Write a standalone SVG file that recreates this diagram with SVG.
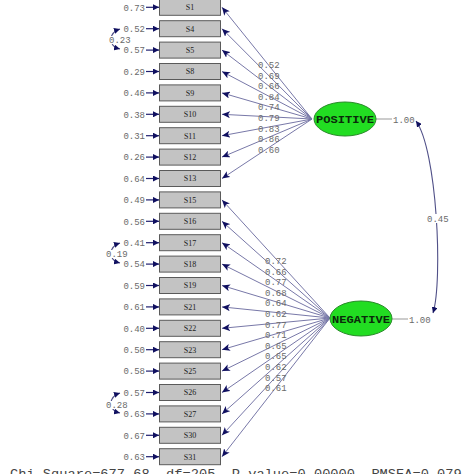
<svg xmlns="http://www.w3.org/2000/svg" width="474" height="474" viewBox="0 0 474 474">
<defs>
<marker id="ah" markerUnits="userSpaceOnUse" markerWidth="9" markerHeight="7" refX="8" refY="3.5" orient="auto-start-reverse">
<path d="M0,0 L8,3.5 L0,7 L2,3.5 Z" fill="#101060"/>
</marker>
<marker id="ahs" markerUnits="userSpaceOnUse" markerWidth="7" markerHeight="6" refX="6" refY="3" orient="auto-start-reverse">
<path d="M0,0 L6,3 L0,6 Z" fill="#101060"/>
</marker>
</defs>
<style>
.box{fill:#c3c3c3;stroke:#5a5a5a;stroke-width:1}
.bl{font-family:"Liberation Serif",serif;font-size:8px;fill:#222;text-anchor:middle}
.num{font-family:"Liberation Mono",monospace;font-size:9px;fill:#6a6a6a}
.err{stroke:#202070;stroke-width:1.2;marker-end:url(#ahs)}
.ld{stroke:#7878a8;stroke-width:1;fill:none;marker-end:url(#ah)}
.cv{stroke:#505088;stroke-width:1.1;fill:none;marker-start:url(#ahs);marker-end:url(#ahs)}
.lat{fill:#22dd22;stroke:#2a8a2a;stroke-width:1}
.lt{font-family:"Liberation Mono",monospace;font-size:11px;font-weight:bold;fill:#0a2a0a;text-anchor:middle}
.gl{stroke:#999;stroke-width:1}
</style>
<rect width="474" height="474" fill="#fff"/>
<g id="connectors">
<line class="err" x1="146" y1="7.3" x2="159" y2="7.3"/>
<line class="err" x1="146" y1="28.7" x2="159" y2="28.7"/>
<line class="err" x1="146" y1="50.1" x2="159" y2="50.1"/>
<line class="err" x1="146" y1="71.5" x2="159" y2="71.5"/>
<line class="err" x1="146" y1="92.9" x2="159" y2="92.9"/>
<line class="err" x1="146" y1="114.3" x2="159" y2="114.3"/>
<line class="err" x1="146" y1="135.7" x2="159" y2="135.7"/>
<line class="err" x1="146" y1="157.1" x2="159" y2="157.1"/>
<line class="err" x1="146" y1="178.5" x2="159" y2="178.5"/>
<line class="err" x1="146" y1="199.9" x2="159" y2="199.9"/>
<line class="err" x1="146" y1="221.3" x2="159" y2="221.3"/>
<line class="err" x1="146" y1="242.7" x2="159" y2="242.7"/>
<line class="err" x1="146" y1="264.1" x2="159" y2="264.1"/>
<line class="err" x1="146" y1="285.5" x2="159" y2="285.5"/>
<line class="err" x1="146" y1="306.9" x2="159" y2="306.9"/>
<line class="err" x1="146" y1="328.3" x2="159" y2="328.3"/>
<line class="err" x1="146" y1="349.7" x2="159" y2="349.7"/>
<line class="err" x1="146" y1="371.1" x2="159" y2="371.1"/>
<line class="err" x1="146" y1="392.5" x2="159" y2="392.5"/>
<line class="err" x1="146" y1="413.9" x2="159" y2="413.9"/>
<line class="err" x1="146" y1="435.3" x2="159" y2="435.3"/>
<line class="err" x1="146" y1="456.7" x2="159" y2="456.7"/>
<path class="cv" d="M120,29 C108,33 108,46 120,49"/>
<path class="cv" d="M120,243 C108,247 108,260 120,263"/>
<path class="cv" d="M120,393 C108,397 108,410 120,413"/>
<line class="ld" x1="312" y1="119" x2="222" y2="7.3"/>
<line class="ld" x1="312" y1="119" x2="222" y2="28.7"/>
<line class="ld" x1="312" y1="119" x2="222" y2="50.1"/>
<line class="ld" x1="312" y1="119" x2="222" y2="71.5"/>
<line class="ld" x1="312" y1="119" x2="222" y2="92.9"/>
<line class="ld" x1="312" y1="119" x2="222" y2="114.3"/>
<line class="ld" x1="312" y1="119" x2="222" y2="135.7"/>
<line class="ld" x1="312" y1="119" x2="222" y2="157.1"/>
<line class="ld" x1="312" y1="119" x2="222" y2="178.5"/>
<line class="ld" x1="330" y1="318" x2="222" y2="199.9"/>
<line class="ld" x1="330" y1="318" x2="222" y2="221.3"/>
<line class="ld" x1="330" y1="318" x2="222" y2="242.7"/>
<line class="ld" x1="330" y1="318" x2="222" y2="264.1"/>
<line class="ld" x1="330" y1="318" x2="222" y2="285.5"/>
<line class="ld" x1="330" y1="318" x2="222" y2="306.9"/>
<line class="ld" x1="330" y1="318" x2="222" y2="328.3"/>
<line class="ld" x1="330" y1="318" x2="222" y2="349.7"/>
<line class="ld" x1="330" y1="318" x2="222" y2="371.1"/>
<line class="ld" x1="330" y1="318" x2="222" y2="392.5"/>
<line class="ld" x1="330" y1="318" x2="222" y2="413.9"/>
<line class="ld" x1="330" y1="318" x2="222" y2="435.3"/>
<line class="ld" x1="330" y1="318" x2="222" y2="456.7"/>
<line class="gl" x1="376" y1="119" x2="392" y2="119"/>
<line class="gl" x1="392" y1="319" x2="408" y2="319"/>
<path class="cv" d="M416,121 C437,150 443,280 433,313"/>
</g>
<g id="labels">
<g class="num" text-anchor="end">
<text x="145" y="10.5">0.73</text>
<text x="145" y="31.9">0.52</text>
<text x="145" y="53.3">0.57</text>
<text x="145" y="74.7">0.29</text>
<text x="145" y="96.1">0.46</text>
<text x="145" y="117.5">0.38</text>
<text x="145" y="138.9">0.31</text>
<text x="145" y="160.3">0.26</text>
<text x="145" y="181.7">0.64</text>
<text x="145" y="203.1">0.49</text>
<text x="145" y="224.5">0.56</text>
<text x="145" y="245.9">0.41</text>
<text x="145" y="267.3">0.54</text>
<text x="145" y="288.7">0.59</text>
<text x="145" y="310.1">0.61</text>
<text x="145" y="331.5">0.40</text>
<text x="145" y="352.9">0.50</text>
<text x="145" y="374.3">0.58</text>
<text x="145" y="395.7">0.57</text>
<text x="145" y="417.1">0.63</text>
<text x="145" y="438.5">0.67</text>
<text x="145" y="459.9">0.63</text>
</g>
<rect x="109" y="36" width="21" height="8" fill="#fff"/>
<text class="num" x="109" y="43">0.23</text>
<rect x="106" y="250" width="21" height="8" fill="#fff"/>
<text class="num" x="106" y="257">0.19</text>
<rect x="106" y="401" width="21" height="8" fill="#fff"/>
<text class="num" x="106" y="408">0.28</text>
<g class="num">
<text x="258" y="68">0.52</text>
<text x="258" y="78.6">0.69</text>
<text x="258" y="89.2">0.66</text>
<text x="258" y="99.8">0.84</text>
<text x="258" y="110.4">0.74</text>
<text x="258" y="121">0.79</text>
<text x="258" y="131.6">0.83</text>
<text x="258" y="142.2">0.86</text>
<text x="258" y="152.8">0.60</text>
<text x="265" y="264">0.72</text>
<text x="265" y="274.6">0.66</text>
<text x="265" y="285.2">0.77</text>
<text x="265" y="295.8">0.68</text>
<text x="265" y="306.4">0.64</text>
<text x="265" y="317">0.62</text>
<text x="265" y="327.6">0.77</text>
<text x="265" y="338.2">0.71</text>
<text x="265" y="348.8">0.65</text>
<text x="265" y="359.4">0.65</text>
<text x="265" y="370">0.62</text>
<text x="265" y="380.6">0.57</text>
<text x="265" y="391.2">0.61</text>
<text x="393" y="122.5">1.00</text>
<text x="409" y="322.5">1.00</text>
</g>
<rect x="426" y="214" width="22" height="9" fill="#fff"/>
<text class="num" x="427" y="222">0.45</text>
</g>
<g id="S1"><rect class="box" x="159.5" y="-0.7" width="61" height="16"/><text class="bl" x="190" y="10.2">S1</text></g>
<g id="S4"><rect class="box" x="159.5" y="20.7" width="61" height="16"/><text class="bl" x="190" y="31.6">S4</text></g>
<g id="S5"><rect class="box" x="159.5" y="42.1" width="61" height="16"/><text class="bl" x="190" y="53">S5</text></g>
<g id="S8"><rect class="box" x="159.5" y="63.5" width="61" height="16"/><text class="bl" x="190" y="74.4">S8</text></g>
<g id="S9"><rect class="box" x="159.5" y="84.9" width="61" height="16"/><text class="bl" x="190" y="95.8">S9</text></g>
<g id="S10"><rect class="box" x="159.5" y="106.3" width="61" height="16"/><text class="bl" x="190" y="117.2">S10</text></g>
<g id="S11"><rect class="box" x="159.5" y="127.7" width="61" height="16"/><text class="bl" x="190" y="138.6">S11</text></g>
<g id="S12"><rect class="box" x="159.5" y="149.1" width="61" height="16"/><text class="bl" x="190" y="160">S12</text></g>
<g id="S13"><rect class="box" x="159.5" y="170.5" width="61" height="16"/><text class="bl" x="190" y="181.4">S13</text></g>
<g id="S15"><rect class="box" x="159.5" y="191.9" width="61" height="16"/><text class="bl" x="190" y="202.8">S15</text></g>
<g id="S16"><rect class="box" x="159.5" y="213.3" width="61" height="16"/><text class="bl" x="190" y="224.2">S16</text></g>
<g id="S17"><rect class="box" x="159.5" y="234.7" width="61" height="16"/><text class="bl" x="190" y="245.6">S17</text></g>
<g id="S18"><rect class="box" x="159.5" y="256.1" width="61" height="16"/><text class="bl" x="190" y="267">S18</text></g>
<g id="S19"><rect class="box" x="159.5" y="277.5" width="61" height="16"/><text class="bl" x="190" y="288.4">S19</text></g>
<g id="S21"><rect class="box" x="159.5" y="298.9" width="61" height="16"/><text class="bl" x="190" y="309.8">S21</text></g>
<g id="S22"><rect class="box" x="159.5" y="320.3" width="61" height="16"/><text class="bl" x="190" y="331.2">S22</text></g>
<g id="S23"><rect class="box" x="159.5" y="341.7" width="61" height="16"/><text class="bl" x="190" y="352.6">S23</text></g>
<g id="S25"><rect class="box" x="159.5" y="363.1" width="61" height="16"/><text class="bl" x="190" y="374">S25</text></g>
<g id="S26"><rect class="box" x="159.5" y="384.5" width="61" height="16"/><text class="bl" x="190" y="395.4">S26</text></g>
<g id="S27"><rect class="box" x="159.5" y="405.9" width="61" height="16"/><text class="bl" x="190" y="416.8">S27</text></g>
<g id="S30"><rect class="box" x="159.5" y="427.3" width="61" height="16"/><text class="bl" x="190" y="438.2">S30</text></g>
<g id="S31"><rect class="box" x="159.5" y="448.7" width="61" height="16"/><text class="bl" x="190" y="459.6">S31</text></g>
<g id="POSITIVE"><ellipse class="lat" cx="345" cy="119" rx="31" ry="17"/><text class="lt" x="345" y="123" textLength="58" lengthAdjust="spacingAndGlyphs">POSITIVE</text></g>
<g id="NEGATIVE"><ellipse class="lat" cx="361" cy="318.5" rx="31" ry="17.5"/><text class="lt" x="361" y="322.5" textLength="58" lengthAdjust="spacingAndGlyphs">NEGATIVE</text></g>
<text x="10" y="478" font-family="Liberation Mono, monospace" font-size="13.7" fill="#444">Chi-Square=677.68, df=205, P-value=0.00000, RMSEA=0.079</text>
</svg>
